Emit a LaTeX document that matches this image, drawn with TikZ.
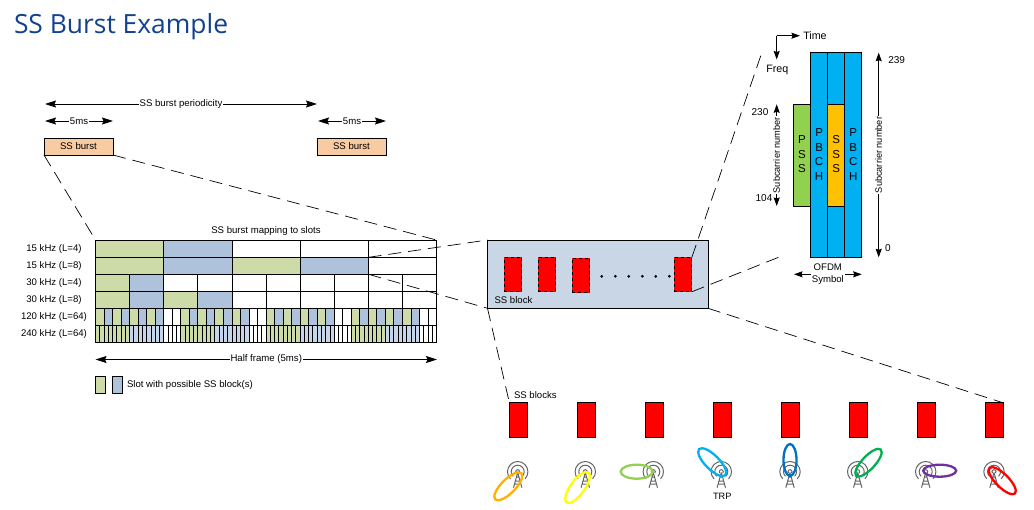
\documentclass[tikz,border=0pt]{standalone}
\usepackage{fontspec}
\setmainfont{Liberation Sans}
\newfontfamily\titlefont{Open Sans}
\usetikzlibrary{arrows.meta,shapes.geometric}
\definecolor{slotgreen}{HTML}{CDDBA8}
\definecolor{slotblue}{HTML}{AFC2DB}
\definecolor{slotpale}{HTML}{C6D6EA}
\definecolor{burstfill}{HTML}{F9CBA2}
\definecolor{panelfill}{HTML}{C9D6E6}
\definecolor{skyfill}{HTML}{00B0F0}
\definecolor{pssfill}{HTML}{92D050}
\definecolor{sssfill}{HTML}{FFC000}
\definecolor{titleblue}{HTML}{124191}
\begin{document}
\begin{tikzpicture}[
            x=1pt, y=-1pt,
            every node/.style={font=\fontsize{9.6}{11.5}\selectfont, inner sep=0pt, outer sep=0pt},
            burstbox/.style={rectangle, draw, line width=0.9pt, fill=burstfill, minimum width=69pt, minimum height=17pt},
            slot/.style={draw, line width=0.8pt},
            rowlabel/.style={anchor=center},
            span/.style={<->, >={Stealth[length=11pt,width=7pt,inset=1.5pt]}, line width=0.8pt},
            smallspan/.style={span, >={Stealth[length=8.5pt,width=6pt,inset=1pt]}},
            spanlabel/.style={fill=white, inner xsep=1pt},
            sidelabel/.style={font=\fontsize{9.2}{11}\selectfont},
            numlabel/.style={font=\fontsize{10}{12}\selectfont},
            axislabel/.style={font=\fontsize{10.7}{13}\selectfont},
            linkline/.style={line width=0.7pt, dash pattern=on 13pt off 7pt},
            redblock/.style={rectangle, draw, line width=0.9pt, fill=red, minimum width=17.6pt, minimum height=34.5pt},
            column/.style={rectangle, draw, line width=0.9pt, fill=skyfill, minimum width=17pt, minimum height=204.6pt},
            sidebox/.style={rectangle, draw, line width=0.9pt, minimum width=17.3pt, minimum height=102pt},
            stacked/.style={font=\fontsize{11.5}{14.5}\selectfont, align=center},
            beam/.style={ellipse, draw=#1, line width=2.3pt},
            tower/.style={draw=black!60, line width=1pt}
        ]
            \useasboundingbox (0,0) rectangle (1034,509);

            % Title
            \node[anchor=west, text=titleblue, font=\titlefont\fontsize{26.4}{32}\selectfont] (title) at (14,27) {SS Burst Example};

            % SS bursts
            \node[burstbox] (burstA) at (78.5,146.5) {SS burst};
            \node[burstbox] (burstB) at (351.5,146.5) {SS burst};

            % Periodicity and burst length
            \coordinate (periodL) at (45,104);
            \coordinate (periodR) at (317,104);
            \coordinate (fiveAL) at (45,121);
            \coordinate (fiveAR) at (113,121);
            \coordinate (fiveBL) at (318,121);
            \coordinate (fiveBR) at (386,121);
            \draw[span] (periodL) -- node[spanlabel] {SS burst periodicity} (periodR);
            \draw[span] (fiveAL) -- node[spanlabel] {5ms} (fiveAR);
            \draw[span] (fiveBL) -- node[spanlabel] {5ms} (fiveBR);

            % Slot rows
            \foreach \c [count=\i from 0] in {slotgreen,slotblue,white,white,white}
                \draw[slot, fill=\c] ({95.5+\i*68.2},240) rectangle +(68.2,17.3);
            \foreach \c [count=\i from 0] in {slotgreen,slotblue,slotgreen,slotblue,white}
                \draw[slot, fill=\c] ({95.5+\i*68.2},257.3) rectangle +(68.2,17);
            \foreach \c [count=\i from 0] in {slotgreen,slotblue,white,white,white,white,white,white,white,white}
                \draw[slot, fill=\c] ({95.5+\i*34.1},274.3) rectangle +(34.1,17);
            \foreach \c [count=\i from 0] in {slotgreen,slotblue,slotgreen,slotblue,white,white,white,white,white,white}
                \draw[slot, fill=\c] ({95.5+\i*34.1},291.3) rectangle +(34.1,17);
            \foreach \g in {0,1,2,3} {
                \foreach \c [count=\i from 0] in {slotgreen,slotblue,slotgreen,slotblue,slotgreen,slotblue,slotgreen,slotblue,white,white}
                    \draw[slot, fill=\c] ({95.5+(\g*10+\i)*8.525},308.3) rectangle +(8.525,17);
                \foreach \c [count=\i from 0] in {slotgreen,slotgreen,slotgreen,slotgreen,slotgreen,slotgreen,slotgreen,slotgreen,slotpale,slotpale,slotpale,slotpale,slotpale,slotpale,slotpale,slotpale,white,white,white,white}
                    \draw[slot, fill=\c] ({95.5+(\g*20+\i)*4.2625},325.3) rectangle +(4.2625,17);
            }
            \node[minimum width=341pt, minimum height=102.3pt] (slotgrid) at (266,291.15) {};
            \node (gridtitle) at (266,231) {SS burst mapping to slots};

            % Row labels
            \foreach \y/\lab [count=\i] in {248.6/15 kHz (L=4),265.8/15 kHz (L=8),282.8/30 kHz (L=4),299.8/30 kHz (L=8),316.8/120 kHz (L=64),333.8/240 kHz (L=64)}
                \node[rowlabel] (rowlabel\i) at (54,\y) {\lab};

            % Half frame
            \coordinate (halfL) at (95.5,359.5);
            \coordinate (halfR) at (437,359.5);
            \draw[span] (halfL) -- node[spanlabel] {Half frame (5ms)} (halfR);

            % Legend
            \node[slot, fill=slotgreen, minimum width=9.5pt, minimum height=17pt] (keygreen) at (100.2,385) {};
            \node[slot, fill=slotblue, minimum width=9.5pt, minimum height=17pt] (keyblue) at (117.2,385) {};
            \node[anchor=west] (keytext) at (127,385.5) {Slot with possible SS block(s)};

            % SS block panel
            \node[rectangle, draw, line width=0.9pt, fill=panelfill, minimum width=220.5pt, minimum height=68.3pt] (panel) at (597.75,274.15) {};
            \node[redblock, dashed] (pblock1) at (512.9,274.5) {};
            \node[redblock, dashed] (pblock2) at (547,274.5) {};
            \node[redblock, dashed] (pblock3) at (581.1,275.4) {};
            \node[redblock, dashed] (pblock4) at (683.1,274.5) {};
            \foreach \x [count=\i] in {601.7,615.3,628.7,642.3,655.7,669.3}
                \node[circle, fill=black, minimum size=3pt] (dot\i) at (\x,276.3) {};
            \node[anchor=west] (blocklabel) at (494.5,299.8) {SS block};

            % Resource grid of one block
            \node[column] (colA) at (819.1,155) {};
            \node[column] (colB) at (836.1,155) {};
            \node[column] (colC) at (853.2,155) {};
            \node[sidebox, fill=pssfill] (pss) at (802,155.3) {};
            \node[sidebox, fill=sssfill] (sss) at (836.1,155.3) {};
            \node[stacked] (pssname) at (802,154.5) {P\\S\\S};
            \node[stacked] (pbchA) at (819.1,154.7) {P\\B\\C\\H};
            \node[stacked] (sssname) at (836.1,154.5) {S\\S\\S};
            \node[stacked] (pbchB) at (853.2,154.7) {P\\B\\C\\H};

            % Time and frequency axes
            \coordinate (axis) at (776.7,35.7);
            \coordinate (axisT) at (800,35.7);
            \coordinate (axisF) at (776.7,59.5);
            \node[axislabel, anchor=west] (time) at (803.3,35.5) {Time};
            \node[axislabel] (freq) at (777.3,69.5) {Freq};
            \draw[->, >={Stealth[length=8.5pt,width=6pt,inset=1pt]}, line width=0.8pt] (axis) -- (axisT);
            \draw[->, >={Stealth[length=8.5pt,width=6pt,inset=1pt]}, line width=0.8pt] (axis) -- (axisF);

            % Subcarrier numbers
            \coordinate (subtopR) at (878.7,52.7);
            \coordinate (subbotR) at (878.7,257.3);
            \coordinate (subtopL) at (776.7,104.3);
            \coordinate (subbotL) at (776.7,206);
            \draw[smallspan] (subtopR) -- node[spanlabel, sidelabel, rotate=90] {Subcarrier number} (subbotR);
            \draw[smallspan] (subtopL) -- node[spanlabel, sidelabel, rotate=90] {Subcarrier number} (subbotL);
            \node[numlabel] (n239) at (896.7,60.5) {239};
            \node[numlabel] (n0) at (888,248.5) {0};
            \node[numlabel] (n230) at (760,112.5) {230};
            \node[numlabel] (n104) at (764,197.8) {104};

            % OFDM symbol
            \coordinate (ofdmL) at (794,274.3);
            \coordinate (ofdmR) at (861.7,274.3);
            \draw[smallspan] (ofdmL) -- node[spanlabel, align=center] {OFDM\\Symbol} (ofdmR);

            % SS blocks and beams
            \node[anchor=west] (blockslabel) at (514,395) {SS blocks};
            \foreach \x [count=\i] in {518.2,586.2,654.2,722.2,790.2,858.2,926.2,994.2}
                \node[redblock] (block\i) at (\x,420) {};
            \foreach \x/\c/\bx/\by/\rot/\bw/\bh [count=\i] in {
                517.7/FFB000/508.3/486.3/45/37/14,
                585.3/FFFF00/577.5/487.5/54/37/14,
                653.3/92D050/636.7/471.7/0/32/14,
                721.3/00B0F0/712.2/462.2/135/37/14,
                790/0070C0/790/460/90/32/13,
                857.7/00B050/868.5/462.7/47/36/13,
                925.7/7030A0/939.7/470.7/0/33/12,
                994/FF0000/1002.3/480.7/135/36/13} {
                \foreach \r in {2,6.5,10.2}
                    \draw[tower] ([shift={(-45:\r pt)}]\x,471.7) arc[start angle=-45, end angle=225, radius=\r pt];
                \draw[tower] (\x,472.5) -- ({\x-4.2},487.7) (\x,472.5) -- ({\x+4.2},487.7)
                    ({\x-2.4},481) -- ({\x+2.4},481) ({\x-1.4},477) -- ({\x+1.4},477) ({\x-3.2},484) -- ({\x+3.2},484);
                \definecolor{beamcolor}{HTML}{\c}
                \node[beam=beamcolor, rotate=\rot, minimum width=\bw pt, minimum height=\bh pt] (beam\i) at (\bx,\by) {};
            }
            \node[sidelabel] (trp) at (722.3,496) {TRP};

            % Connections
            \coordinate (rowB) at (368.5,257.3);
            \coordinate (rowC) at (368.5,274.3);
            \draw[linkline] (burstA.south west) -- (slotgrid.north west);
            \draw[linkline] (burstA.south east) -- (slotgrid.north east);
            \draw[linkline] (rowB) -- (panel.north west);
            \draw[linkline] (rowC) -- (panel.south west);
            \draw[linkline] (panel.south west) -- (block1.north west);
            \draw[linkline] (panel.south east) -- (block8.north east);
            \coordinate (gridtop) at (761,55);
            \coordinate (gridbot) at (778.5,257.3);
            \draw[linkline] (pblock4.north east) -- (gridtop);
            \draw[linkline] (pblock4.south east) -- (gridbot);

        \end{tikzpicture}
\end{document}
